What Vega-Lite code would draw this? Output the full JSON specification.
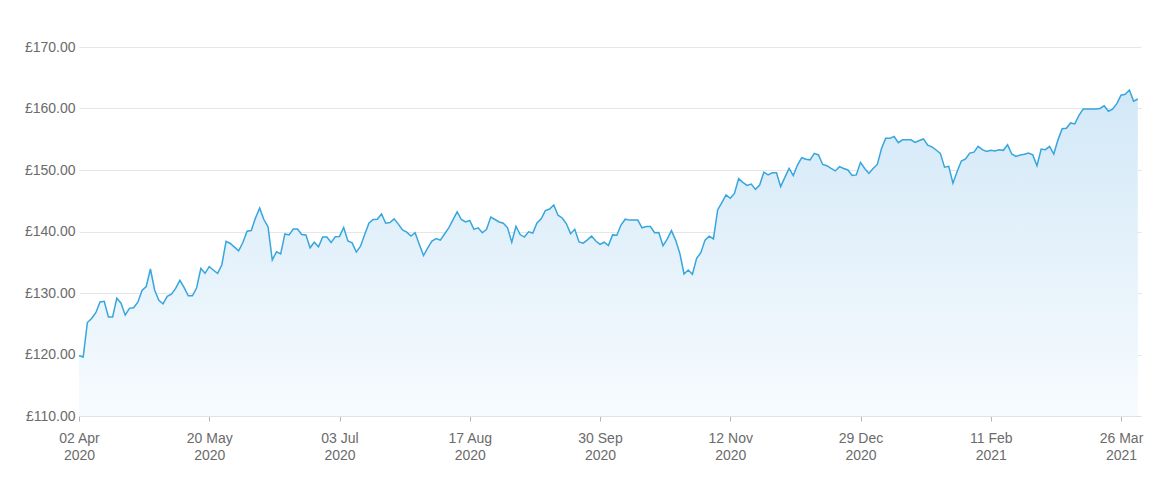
{
  "$schema": "https://vega.github.io/schema/vega-lite/v6.json",
  "autosize": {"type": "none"},
  "padding": {"left": 79, "top": 47, "right": 29, "bottom": 75},
  "width": 1062,
  "height": 369,
  "background": "white",
  "config": {
    "view": {"stroke": null},
    "font": "Liberation Sans",
    "axis": {"labelFont": "Liberation Sans", "labelFontSize": 14, "labelColor": "#6b6b6b"}
  },
  "data": {"values": [
    {"day":0,"price":119.8},{"day":1,"price":119.6},{"day":2,"price":125.2},{"day":3,"price":125.85},{"day":4,"price":126.8},
    {"day":5,"price":128.55},{"day":6,"price":128.65},{"day":7,"price":126.1},{"day":8,"price":126.1},{"day":9,"price":129.15},
    {"day":10,"price":128.35},{"day":11,"price":126.4},{"day":12,"price":127.5},{"day":13,"price":127.6},{"day":14,"price":128.5},
    {"day":15,"price":130.4},{"day":16,"price":131.05},{"day":17,"price":133.9},{"day":18,"price":130.5},{"day":19,"price":128.8},
    {"day":20,"price":128.25},{"day":21,"price":129.45},{"day":22,"price":129.8},{"day":23,"price":130.75},{"day":24,"price":132.05},
    {"day":25,"price":130.9},{"day":26,"price":129.55},{"day":27,"price":129.55},{"day":28,"price":130.85},{"day":29,"price":134.0},
    {"day":30,"price":133.2},{"day":31,"price":134.3},{"day":32,"price":133.7},{"day":33,"price":133.2},{"day":34,"price":134.6},
    {"day":35,"price":138.4},{"day":36,"price":138.05},{"day":37,"price":137.45},{"day":38,"price":136.85},{"day":39,"price":138.2},
    {"day":40,"price":140.05},{"day":41,"price":140.15},{"day":42,"price":142.2},{"day":43,"price":143.8},{"day":44,"price":141.95},
    {"day":45,"price":140.75},{"day":46,"price":135.35},{"day":47,"price":136.7},{"day":48,"price":136.35},{"day":49,"price":139.6},
    {"day":50,"price":139.45},{"day":51,"price":140.4},{"day":52,"price":140.4},{"day":53,"price":139.5},{"day":54,"price":139.45},
    {"day":55,"price":137.35},{"day":56,"price":138.25},{"day":57,"price":137.5},{"day":58,"price":139.1},{"day":59,"price":139.1},
    {"day":60,"price":138.2},{"day":61,"price":139.15},{"day":62,"price":139.2},{"day":63,"price":140.65},{"day":64,"price":138.45},
    {"day":65,"price":138.15},{"day":66,"price":136.65},{"day":67,"price":137.6},{"day":68,"price":139.5},{"day":69,"price":141.35},
    {"day":70,"price":141.95},{"day":71,"price":142.0},{"day":72,"price":142.85},{"day":73,"price":141.35},{"day":74,"price":141.45},
    {"day":75,"price":142.05},{"day":76,"price":141.2},{"day":77,"price":140.25},{"day":78,"price":139.9},{"day":79,"price":139.25},
    {"day":80,"price":139.8},{"day":81,"price":137.9},{"day":82,"price":136.1},{"day":83,"price":137.35},{"day":84,"price":138.45},
    {"day":85,"price":138.85},{"day":86,"price":138.6},{"day":87,"price":139.6},{"day":88,"price":140.6},{"day":89,"price":141.9},
    {"day":90,"price":143.2},{"day":91,"price":141.95},{"day":92,"price":141.55},{"day":93,"price":141.8},{"day":94,"price":140.35},
    {"day":95,"price":140.6},{"day":96,"price":139.8},{"day":97,"price":140.35},{"day":98,"price":142.35},{"day":99,"price":141.95},
    {"day":100,"price":141.55},{"day":101,"price":141.35},{"day":102,"price":140.6},{"day":103,"price":138.25},{"day":104,"price":140.85},
    {"day":105,"price":139.5},{"day":106,"price":139.1},{"day":107,"price":139.95},{"day":108,"price":139.75},{"day":109,"price":141.4},
    {"day":110,"price":142.05},{"day":111,"price":143.4},{"day":112,"price":143.65},{"day":113,"price":144.3},{"day":114,"price":142.65},
    {"day":115,"price":142.2},{"day":116,"price":141.25},{"day":117,"price":139.65},{"day":118,"price":140.35},{"day":119,"price":138.3},
    {"day":120,"price":138.1},{"day":121,"price":138.65},{"day":122,"price":139.25},{"day":123,"price":138.45},{"day":124,"price":137.9},
    {"day":125,"price":138.25},{"day":126,"price":137.7},{"day":127,"price":139.45},{"day":128,"price":139.4},{"day":129,"price":141.05},
    {"day":130,"price":142.0},{"day":131,"price":141.85},{"day":132,"price":141.85},{"day":133,"price":141.85},{"day":134,"price":140.6},
    {"day":135,"price":140.8},{"day":136,"price":140.8},{"day":137,"price":139.8},{"day":138,"price":139.85},{"day":139,"price":137.7},
    {"day":140,"price":138.75},{"day":141,"price":140.15},{"day":142,"price":138.6},{"day":143,"price":136.45},{"day":144,"price":133.1},
    {"day":145,"price":133.75},{"day":146,"price":133.05},{"day":147,"price":135.65},{"day":148,"price":136.55},{"day":149,"price":138.6},
    {"day":150,"price":139.25},{"day":151,"price":138.8},{"day":152,"price":143.5},{"day":153,"price":144.7},{"day":154,"price":145.95},
    {"day":155,"price":145.4},{"day":156,"price":146.2},{"day":157,"price":148.6},{"day":158,"price":148.0},{"day":159,"price":147.5},
    {"day":160,"price":147.7},{"day":161,"price":146.85},{"day":162,"price":147.55},{"day":163,"price":149.65},{"day":164,"price":149.2},
    {"day":165,"price":149.55},{"day":166,"price":149.55},{"day":167,"price":147.3},{"day":168,"price":148.8},{"day":169,"price":150.25},
    {"day":170,"price":149.1},{"day":171,"price":150.8},{"day":172,"price":152.0},{"day":173,"price":151.75},{"day":174,"price":151.65},
    {"day":175,"price":152.7},{"day":176,"price":152.45},{"day":177,"price":150.9},{"day":178,"price":150.7},{"day":179,"price":150.25},
    {"day":180,"price":149.85},{"day":181,"price":150.55},{"day":182,"price":150.25},{"day":183,"price":150.0},{"day":184,"price":149.1},
    {"day":185,"price":149.2},{"day":186,"price":151.25},{"day":187,"price":150.25},{"day":188,"price":149.45},{"day":189,"price":150.25},
    {"day":190,"price":150.9},{"day":191,"price":153.5},{"day":192,"price":155.15},{"day":193,"price":155.15},{"day":194,"price":155.45},
    {"day":195,"price":154.45},{"day":196,"price":154.9},{"day":197,"price":154.9},{"day":198,"price":154.9},{"day":199,"price":154.5},
    {"day":200,"price":154.8},{"day":201,"price":155.05},{"day":202,"price":154.05},{"day":203,"price":153.75},{"day":204,"price":153.25},
    {"day":205,"price":152.7},{"day":206,"price":150.45},{"day":207,"price":150.6},{"day":208,"price":147.85},{"day":209,"price":149.75},
    {"day":210,"price":151.45},{"day":211,"price":151.8},{"day":212,"price":152.75},{"day":213,"price":152.9},{"day":214,"price":153.85},
    {"day":215,"price":153.3},{"day":216,"price":153.0},{"day":217,"price":153.2},{"day":218,"price":153.1},{"day":219,"price":153.3},
    {"day":220,"price":153.2},{"day":221,"price":154.1},{"day":222,"price":152.6},{"day":223,"price":152.2},{"day":224,"price":152.45},
    {"day":225,"price":152.55},{"day":226,"price":152.75},{"day":227,"price":152.45},{"day":228,"price":150.7},{"day":229,"price":153.4},
    {"day":230,"price":153.3},{"day":231,"price":153.85},{"day":232,"price":152.6},{"day":233,"price":154.9},{"day":234,"price":156.7},
    {"day":235,"price":156.8},{"day":236,"price":157.65},{"day":237,"price":157.5},{"day":238,"price":158.9},{"day":239,"price":159.9},
    {"day":240,"price":159.9},{"day":241,"price":159.9},{"day":242,"price":159.9},{"day":243,"price":160.0},{"day":244,"price":160.45},
    {"day":245,"price":159.55},{"day":246,"price":159.9},{"day":247,"price":160.8},{"day":248,"price":162.15},{"day":249,"price":162.3},
    {"day":250,"price":163.0},{"day":251,"price":161.2},{"day":252,"price":161.55}
  ]},
  "encoding": {
    "x": {
      "field": "day", "type": "quantitative",
      "scale": {"domain": [0, 252.76], "nice": false, "zero": false},
      "axis": {
        "title": null,
        "values": [0, 31, 62, 93, 124, 155, 186, 217, 248],
        "labelExpr": "[['02 Apr','20 May','03 Jul','17 Aug','30 Sep','12 Nov','29 Dec','11 Feb','26 Mar'][round(datum.value / 31)], datum.value <= 186 ? '2020' : '2021']",
        "labelFlush": false,
        "labelOverlap": false,
        "labelPadding": 10,
        "labelLineHeight": 17,
        "labelBaseline": "top",
        "grid": false,
        "domain": true,
        "domainColor": "#e2e2e2",
        "domainWidth": 1,
        "ticks": true,
        "tickColor": "#b5b5b5",
        "tickSize": 5
      }
    },
    "y": {
      "field": "price", "type": "quantitative",
      "scale": {"domain": [110, 170], "nice": false, "zero": false},
      "axis": {
        "title": null,
        "values": [110, 120, 130, 140, 150, 160, 170],
        "labelExpr": "'£' + format(datum.value, '.2f')",
        "domain": false,
        "ticks": false,
        "labelPadding": 4,
        "grid": true,
        "gridColor": "#e6e6e6",
        "gridWidth": 1
      }
    }
  },
  "layer": [
    {
      "mark": {
        "type": "area",
        "line": false,
        "fill": {
          "gradient": "linear", "x1": 0, "y1": 0, "x2": 0, "y2": 1,
          "stops": [
            {"offset": 0, "color": "#d2e8f7"},
            {"offset": 1, "color": "#f7fbfe"}
          ]
        }
      },
      "encoding": {"y2": {"datum": 110}}
    },
    {
      "mark": {"type": "line", "color": "#36a6de", "strokeWidth": 1.5}
    }
  ]
}
